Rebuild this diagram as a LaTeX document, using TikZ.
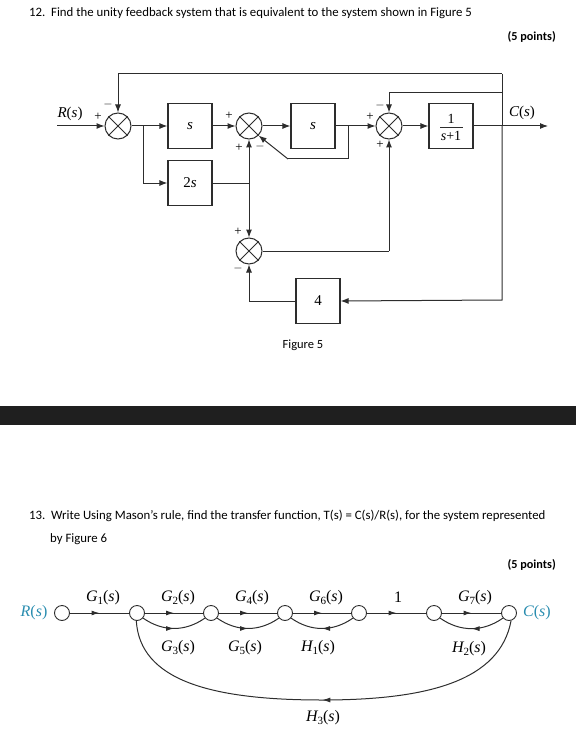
\documentclass[tikz,border=0pt]{standalone}
\usepackage{fontspec}
\setmainfont{Carlito}
\newfontfamily\tms{Liberation Serif}
\usetikzlibrary{arrows.meta,decorations.markings,calc}
\definecolor{ink}{RGB}{45,45,45}
\definecolor{teal6}{RGB}{40,140,175}
\newcommand\ti[1]{{\tms\itshape #1}}
\newcommand\tfn[2]{{\tms\itshape #1}\raisebox{-0.35ex}{\tms\fontsize{11}{11}\selectfont #2}{\tms(\itshape s\/\upshape)}}
\begin{document}
\begin{tikzpicture}[x=1pt,y=-1pt,
  every node/.style={inner sep=0pt},
  ln/.style={draw=ink,line width=1pt},
  arr/.style={ln,-{Latex[length=8pt,width=6pt]}},
  blk/.style={draw=ink,line width=1.1pt,minimum width=44pt,minimum height=45pt,font=\tms\fontsize{15}{15}\selectfont},
  sumj/.style={circle,draw=ink,line width=1pt,minimum size=26pt},
  sg/.style={font=\tms\fontsize{13}{13}\selectfont},
  lbl/.style={font=\tms\fontsize{15}{15}\selectfont},
  frt/.style={font=\tms\fontsize{14}{14}\selectfont},
  lbl6/.style={font=\tms\fontsize{16}{16}\selectfont},
  txt/.style={font=\fontsize{12.8}{14}\selectfont,anchor=west},
  pts/.style={anchor=east,font=\bfseries\fontsize{12.2}{14}\selectfont},
  nd/.style={circle,draw=ink,line width=0.9pt,minimum size=15pt},
  edge/.style={draw=ink,line width=1pt,postaction={decorate},decoration={markings,mark=at position 0.5 with {\arrow{Latex[length=8pt,width=5pt]}}}}
]
\useasboundingbox (0,0) rectangle (576,746);
% --- text
\node[txt] (q12) at (29,13) {12.\ \ Find the unity feedback system that is equivalent to the system shown in Figure 5};
\node[pts] (p12) at (556,37) {(5 points)};
% --- Figure 5
\node[sumj] (s1) at (118,126) {};
\node[sumj] (s2) at (249,126) {};
\node[sumj] (s3) at (249,251) {};
\node[sumj] (s4) at (389,126) {};
\foreach \n in {s1,s2,s3,s4}
  \draw[ink,line width=1pt] (\n.north east)--(\n.south west) (\n.north west)--(\n.south east);
\node[blk] (bs1) at (190,126) {\ti{s}};
\node[blk] (b2s) at (190,183) {2\ti{s}};
\node[blk] (bs2) at (313,126) {\ti{s}};
\node[blk] (bfr) at (451,126) {};
\node[frt] (frn) at (451,119) {1};
\node[frt] (frd) at (451,135.5) {\ti{s}+1};
\coordinate (frl) at (440,127);
\coordinate (frr) at (463,127);
\draw[ink,line width=0.7pt] (frl) -- (frr);
\node[blk] (bfour) at (318,301) {4};
\coordinate (rin) at (57,126);
\coordinate (br1) at (143,126);
\coordinate (j2) at (249,183);
\coordinate (tap) at (502,126);
\coordinate (topc) at (502,74);
\coordinate (innc) at (502,93);
\coordinate (botc) at (502,300);
\coordinate (cout) at (548,126);
\coordinate (tk2) at (348,126);
\coordinate (lp1) at (348,159);
\coordinate (lp2) at (288,159);
\coordinate (s3r) at (389,251);
\node[lbl] (rl) at (70,114) {\ti{R}(\ti{s})};
\node[lbl] (cl) at (522,113) {\ti{C}(\ti{s})};
\draw[arr] (rin) -- (s1.west);
\draw[arr] (s1.east) -- (bs1.west);
\draw[arr] (br1) |- (b2s.west);
\draw[arr] (bs1.east) -- (s2.west);
\draw[arr] (s2.east) -- (bs2.west);
\draw[arr] (bs2.east) -- (s4.west);
\draw[ln] (tk2) -- (lp1) -- (lp2);
\draw[arr] (lp2) -- (s2.south east);
\draw[arr] (s4.east) -- (bfr.west);
\draw[arr] (bfr.east) -- (cout);
\draw[ln] (b2s.east) -- (j2);
\draw[arr] (j2) -- (s2.south);
\draw[arr] (j2) -- (s3.north);
\draw[ln] (s3.east) -- (s3r);
\draw[arr] (s3r) -- (s4.south);
\draw[ln] (tap) -- (topc);
\draw[arr] (topc) -| (s1.north);
\draw[arr] (innc) -| (s4.north);
\draw[arr] (tap) -- (botc) -- (bfour.east);
\draw[arr] (bfour.west) -| (s3.south);
% signs
\node[sg] (a1) at (98,117) {+};
\node[sg] (a2) at (108,105) {$-$};
\node[sg] (a3) at (229,116) {+};
\node[sg] (a4) at (239,148) {+};
\node[sg] (a5) at (260,147) {$-$};
\node[sg] (a6) at (370,117) {+};
\node[sg] (a7) at (380,106) {$-$};
\node[sg] (a8) at (380,145) {+};
\node[sg] (a9) at (238,232) {+};
\node[sg] (a10) at (238,268) {$-$};
\node[font=\fontsize{12.5}{14}\selectfont] (f5) at (303,345) {Figure 5};
% --- separator bar
\fill[black!88] (0,406) rectangle (576,425);
% --- question 13
\node[txt] (q13) at (29,516) {13.\ \ Write Using Mason’s rule, find the transfer function, T(s) = C(s)/R(s), for the system represented};
\node[txt] (q13b) at (50,539) {by Figure 6};
\node[pts] (p13) at (556,565) {(5 points)};
% --- Figure 6
\node[nd] (n1) at (62,613) {};
\node[nd] (n2) at (137,613) {};
\node[nd] (n3) at (211,613) {};
\node[nd] (n4) at (285,613) {};
\node[nd] (n5) at (359,613) {};
\node[nd] (n6) at (434,613) {};
\node[nd] (n7) at (509,613) {};
\draw[edge] (n1) -- (n2);
\draw[edge] (n2) -- (n3);
\draw[edge] (n3) -- (n4);
\draw[edge] (n4) -- (n5);
\draw[edge] (n5) -- (n6);
\draw[edge] (n6) -- (n7);
\draw[edge] (n2.-40) to[out=-35,in=-145] (n3.-140);
\draw[edge] (n3.-40) to[out=-35,in=-145] (n4.-140);
\draw[edge] (n5.-140) to[out=-145,in=-35] (n4.-40);
\draw[edge] (n7.-140) to[out=-145,in=-35] (n6.-40);
\draw[edge] (n7.-75) .. controls (500,680) and (430,700) .. (322,700) .. controls (210,700) and (140,680) .. (n2.-95);
\node[lbl6,text=teal6] (rl6) at (34,613) {\ti{R}(\ti{s})};
\node[lbl6,text=teal6] (cl6) at (537,613) {\ti{C}(\ti{s})};
\node[lbl6] (g1) at (103,598) {\tfn{G}{1}};
\node[lbl6] (g2) at (178,598) {\tfn{G}{2}};
\node[lbl6] (g4) at (252,598) {\tfn{G}{4}};
\node[lbl6] (g6) at (326,598) {\tfn{G}{6}};
\node[lbl6] (one) at (398,597) {1};
\node[lbl6] (g7) at (475,598) {\tfn{G}{7}};
\node[lbl6] (g3) at (178,648) {\tfn{G}{3}};
\node[lbl6] (g5) at (245,648) {\tfn{G}{5}};
\node[lbl6] (h1) at (318,648) {\tfn{H}{1}};
\node[lbl6] (h2) at (469,649) {\tfn{H}{2}};
\node[lbl6] (h3) at (323,718) {\tfn{H}{3}};
\end{tikzpicture}
\end{document}
